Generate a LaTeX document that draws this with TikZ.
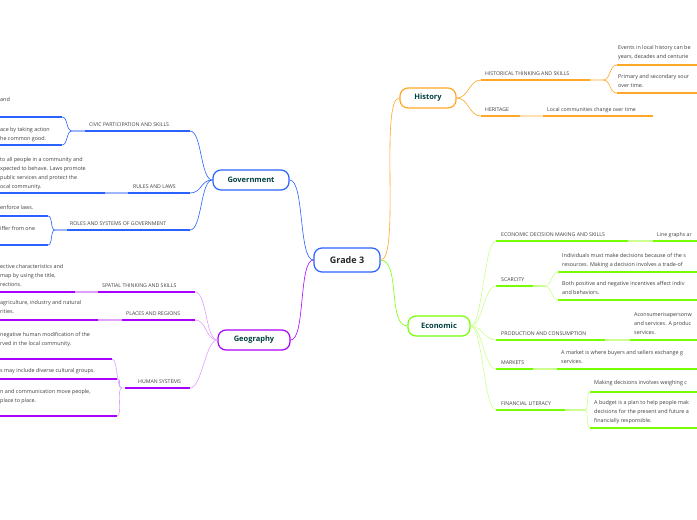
\documentclass[tikz,border=0pt]{standalone}
\usepackage{fontspec}
\setmainfont{Open Sans}
\begin{document}
\begin{tikzpicture}[x=1pt,y=-1pt,
 lf/.style={anchor=north west,inner sep=0pt,font=\fontsize{5.4}{9}\selectfont,text=black!75,align=left},
 br/.style={anchor=base west,inner sep=0pt,font=\fontsize{5.2}{9}\selectfont,text=black!75},
 main/.style={draw,rounded corners=8pt,line width=1.2pt,minimum height=20pt,font=\bfseries\fontsize{7.5}{9}\selectfont,text=teal!50!black},
 cv/.style={line width=0.6pt},
 ul/.style={line width=1.4pt}]
\definecolor{cO}{HTML}{FFA726}\definecolor{cOl}{HTML}{FFE0B2}
\definecolor{cB}{HTML}{2962FF}\definecolor{cBl}{HTML}{9FB5FF}
\definecolor{cP}{HTML}{AA00FF}\definecolor{cPl}{HTML}{DDA0FF}
\definecolor{cG}{HTML}{76FF03}\definecolor{cGl}{HTML}{CCFF90}
\useasboundingbox[fill=white] (0,0) rectangle (697,520);
% center
\node[main,draw=cB,minimum width=66pt,minimum height=24pt,font=\bfseries\fontsize{9}{10}\selectfont,text=black!85] (c) at (347,260) {Grade 3};
\node[main,draw=cO,minimum width=56pt] (hist) at (428,98) {History};
\node[main,draw=cB,minimum width=76pt] (gov) at (251,180) {Government};
\node[main,draw=cP,minimum width=72pt] (geo) at (254,340) {Geography};
\node[main,draw=cG,minimum width=62pt] (eco) at (439,326) {Economic};
\draw[cv,cO] (c.east) .. controls +(20,0) and +(-20,0) .. (hist.west);
\draw[cv,cG] (c.east) .. controls +(20,0) and +(-20,0) .. (eco.west);
\draw[cv,cB] (c.west) .. controls +(-15,0) and +(15,0) .. (gov.east);
\draw[cv,cP] (c.west) .. controls +(-15,0) and +(15,0) .. (geo.east);
% ---------- History
\coordinate (h1a) at (481,80); \coordinate (h1b) at (603,80);
\coordinate (h2a) at (481,116); \coordinate (h2b) at (543,116);
\node[br] (th1) at (485,75) {HISTORICAL THINKING AND SKILLS};
\node[br] (th2) at (485,111) {HERITAGE};
\draw[cv,cO] (hist.east) .. controls +(12,0) and +(-12,0) .. (h1a);
\draw[cv,cO] (hist.east) .. controls +(12,0) and +(-12,0) .. (h2a);
\draw[ul,cO] (h1a) -- (590,80); \draw[ul,cOl] (590,80) -- (h1b);
\draw[ul,cO] (h2a) -- (520,116); \draw[ul,cOl] (520,116) -- (h2b);
\node[br] (t3) at (547,111) {Local communities change over time};
\draw[ul,cO] (h2b) -- (653,116);
\coordinate (h1l1) at (617,65); \coordinate (h1l2) at (617,93);
\draw[cv,cO] (h1b) .. controls +(8,0) and +(-8,0) .. (h1l1);
\draw[cv,cO] (h1b) .. controls +(8,0) and +(-8,0) .. (h1l2);
\draw[ul,cO] (h1l1) -- (697,65); \draw[ul,cO] (h1l2) -- (697,93);
\node[lf] (t4) at (618,45) {Events in local history can be\\years, decades and centurie};
\node[lf] (t5) at (618,74) {Primary and secondary sour\\over time.};
% ---------- Government
\coordinate (g1) at (190,131); \coordinate (g2) at (190,193); \coordinate (g3) at (190,230);
\foreach \g in {g1,g2,g3} \draw[cv,cB] (gov.west) .. controls +(-12,0) and +(12,0) .. (\g);
\draw[ul,cB] (g1) -- (85,131); \coordinate (g1j) at (72,131); \draw[ul,cBl] (85,131) -- (g1j);
\node[br] (tg1) at (89,126) {CIVIC PARTICIPATION AND SKILLS};
\draw[ul,cB] (g2) -- (128,193); \draw[ul,cBl] (128,193) -- (105,193); \draw[ul,cB] (105,193) -- (0,193);
\node[br] (tg2) at (133,188) {RULES AND LAWS};
\draw[ul,cB] (g3) -- (67,230); \coordinate (g3j) at (55,230);\draw[ul,cBl] (67,230) -- (g3j);
\node[br] (tg3) at (70,225) {ROLES AND SYSTEMS OF GOVERNMENT};
\coordinate (gl1) at (62,117); \coordinate (gl2) at (62,145);
\draw[cv,cB] (g1j) .. controls +(-6,0) and +(6,0) .. (gl1);
\draw[cv,cB] (g1j) .. controls +(-6,0) and +(6,0) .. (gl2);
\draw[ul,cB] (gl1) -- (0,117); \draw[ul,cB] (gl2) -- (0,145);
\node[lf] (tg4) at (0,97) {and};
\node[lf] (tg5) at (0,127) {ace by taking action\\he common good.};
\node[lf] (tg6) at (0,157) {to all people in a community and\\xpected to behave. Laws promote\\ public services and protect the\\ocal community.};
\coordinate (gl3) at (48,216); \coordinate (gl4) at (48,245);
\draw[cv,cB] (g3j) .. controls +(-5,0) and +(5,0) .. (gl3);
\draw[cv,cB] (g3j) .. controls +(-5,0) and +(5,0) .. (gl4);
\draw[ul,cB] (gl3) -- (0,216); \draw[ul,cB] (gl4) -- (0,245);
\node[lf] (tg7) at (0,205) {enforce laws.};
\node[lf] (tg8) at (0,226) {iffer from one};
% ---------- Geography
\coordinate (p1) at (195,292); \coordinate (p2) at (195,320); \coordinate (p3) at (190,388);
\foreach \g in {p1,p2,p3} \draw[cv,cPl] (geo.west) .. controls +(-12,0) and +(12,0) .. (\g);
\draw[ul,cP] (p1) -- (98,292); \draw[ul,cPl] (98,292) -- (75,292); \draw[ul,cP] (75,292) -- (0,292);
\node[br] (tp1) at (102,287) {SPATIAL THINKING AND SKILLS};
\draw[ul,cP] (p2) -- (122,320); \draw[ul,cPl] (122,320) -- (98,320); \draw[ul,cP] (98,320) -- (0,320);
\node[br] (tp2) at (126,315) {PLACES AND REGIONS};
\draw[ul,cP] (p3) -- (125,388); \coordinate (p3j) at (122,388);
\node[br] (tp3) at (138,383) {HUMAN SYSTEMS};
\node[lf] (tp4) at (0,264) {ective characteristics and\\map by using the title,\\rections.};
\node[lf] (tp5) at (0,300) {agriculture, industry and natural\\rities.};
\coordinate (pl1) at (112,359); \coordinate (pl2) at (117,379); \coordinate (pl3) at (117,416);
\foreach \g in {pl1,pl2,pl3} \draw[cv,cPl] (p3j) .. controls +(-6,0) and +(6,0) .. (\g);
\draw[ul,cP] (pl1) -- (0,359); \draw[ul,cP] (pl2) -- (0,379); \draw[ul,cP] (pl3) -- (0,416);
\node[lf] (tp6) at (0,332) {negative human modification of the\\rved in the local community.};
\node[lf] (tp7) at (0,368) {s may include diverse cultural groups.};
\node[lf] (tp8) at (0,389) {n and communication move people,\\place to place.};
% ---------- Economic
\coordinate (e1) at (496,241); \coordinate (e2) at (496,286); \coordinate (e3) at (496,340);
\coordinate (e4) at (496,369); \coordinate (e5) at (496,410);
\foreach \g in {e1,e2,e3,e4,e5} \draw[cv,cGl] (eco.east) .. controls +(12,0) and +(-12,0) .. (\g);
\draw[ul,cG] (e1) -- (628,241); \draw[ul,cGl] (628,241) -- (653,241); \draw[ul,cG] (653,241) -- (697,241);
\node[br] (te1) at (501,236) {ECONOMIC DECISION MAKING AND SKILLS};
\node[br] (te1b) at (657,236) {Line graphs ar};
\draw[ul,cG] (e2) -- (533,286); \coordinate (e2j) at (545,286); \draw[ul,cGl] (533,286) -- (e2j);
\node[br] (te2) at (501,281) {SCARCITY};
\coordinate (el1) at (558,272); \coordinate (el2) at (558,300);
\draw[cv,cGl] (e2j) .. controls +(6,0) and +(-6,0) .. (el1);
\draw[cv,cGl] (e2j) .. controls +(6,0) and +(-6,0) .. (el2);
\draw[ul,cG] (el1) -- (697,272); \draw[ul,cG] (el2) -- (697,300);
\node[lf] (te3) at (562,253) {Individuals must make decisions because of the s\\resources. Making a decision involves a trade-of};
\node[lf] (te4) at (562,281) {Both positive and negative incentives affect indiv\\and behaviors.};
\draw[ul,cG] (e3) -- (605,340); \draw[ul,cGl] (605,340) -- (630,340); \draw[ul,cG] (630,340) -- (697,340);
\node[br] (te5) at (501,335) {PRODUCTION AND CONSUMPTION};
\node[lf] (te6) at (634,312) {Aconsumerisapersonw\\and services. A produc\\services.};
\draw[ul,cG] (e4) -- (533,369); \draw[ul,cGl] (533,369) -- (557,369); \draw[ul,cG] (557,369) -- (697,369);
\node[br] (te7) at (501,364) {MARKETS};
\node[lf] (te8) at (561,350) {A market is where buyers and sellers exchange g\\services.};
\draw[ul,cG] (e5) -- (565,410); \coordinate (e5j) at (585,410); \draw[ul,cGl] (565,410) -- (e5j);
\node[br] (te9) at (501,405) {FINANCIAL LITERACY};
\coordinate (el3) at (590,392); \coordinate (el4) at (590,428);
\draw[cv,cGl] (e5j) .. controls +(4,0) and +(-4,0) .. (el3);
\draw[cv,cGl] (e5j) .. controls +(4,0) and +(-4,0) .. (el4);
\draw[ul,cG] (el3) -- (697,392); \draw[ul,cG] (el4) -- (697,428);
\node[lf] (te10) at (594,380) {Making decisions involves weighing c};
\node[lf] (te11) at (594,400) {A budget is a plan to help people mak\\decisions for the present and future a\\financially responsible.};
\end{tikzpicture}
\end{document}
